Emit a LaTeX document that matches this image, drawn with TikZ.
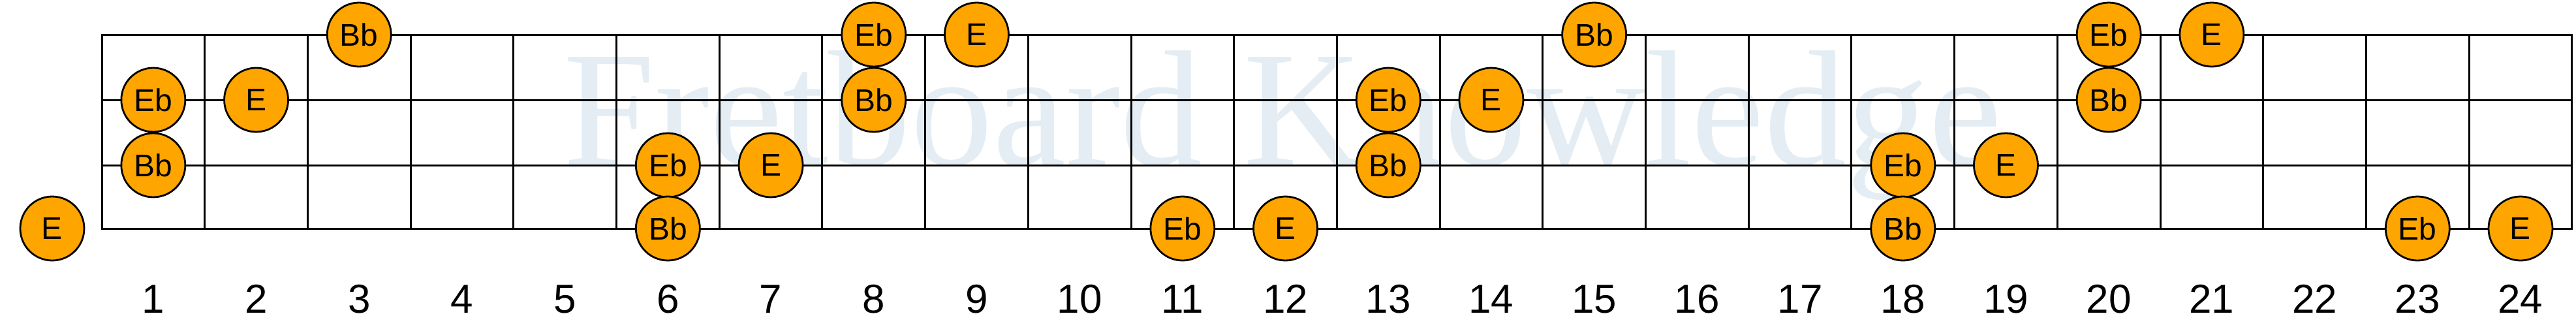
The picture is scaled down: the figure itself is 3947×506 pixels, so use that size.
\documentclass[tikz,border=0pt]{standalone}
\usepackage{fontspec}
\setmainfont{Liberation Sans}
\newfontfamily\wmfont{Liberation Serif}
\definecolor{noteorange}{HTML}{FFA500}
\definecolor{wmblue}{HTML}{E4EDF3}
\begin{document}
\begin{tikzpicture}[x=1pt,y=-1pt,
  gridline/.style={line width=3pt, black},
  note/.style={circle, draw=black, line width=2.8pt, fill=noteorange, minimum size=98pt, inner sep=0pt, font=\fontsize{48}{48}\selectfont},
  fretnum/.style={anchor=base, inner sep=0pt, font=\fontsize{62}{62}\selectfont}]
\useasboundingbox (0,0) rectangle (3947,506);
\node[anchor=base west, inner sep=0pt, text=wmblue, font=\wmfont\fontsize{252}{252}\selectfont] (wm) at (863,252) {Fretboard Knowledge};
% frets
\foreach \k in {0,...,24}
  \draw[gridline] ({156+\k*157.7},53) -- ({156+\k*157.7},350);
% strings
\foreach \y in {53,153,253,350}
  \draw[gridline, line cap=rect] (156,\y) -- (3940.8,\y);
% notes
\foreach \s/\y/\f/\t in {
  1/53/3/Bb, 1/53/8/Eb, 1/53/9/E, 1/53/15/Bb, 1/53/20/Eb, 1/53/21/E,
  2/153/1/Eb, 2/153/2/E, 2/153/8/Bb, 2/153/13/Eb, 2/153/14/E, 2/153/20/Bb,
  3/253/1/Bb, 3/253/6/Eb, 3/253/7/E, 3/253/13/Bb, 3/253/18/Eb, 3/253/19/E,
  4/350/6/Bb, 4/350/11/Eb, 4/350/12/E, 4/350/18/Bb, 4/350/23/Eb, 4/350/24/E}
  \node[note] (n\s-\f) at ({156+(\f-0.5)*157.7},\y) {\t};
\node[note] (open) at (80,350) {E};
% fret numbers
\foreach \f in {1,...,24}
  \node[fretnum] (fn\f) at ({156+(\f-0.5)*157.7},479) {\f};
\end{tikzpicture}
\end{document}
